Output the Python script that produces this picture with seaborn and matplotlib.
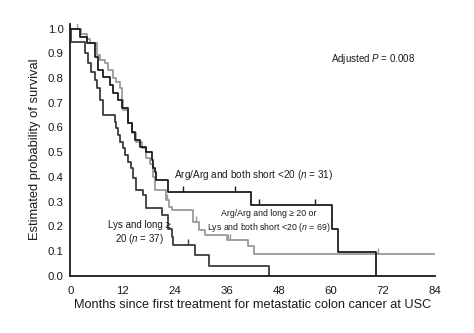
import numpy as np
import pandas as pd
import matplotlib
matplotlib.use("Agg")
import matplotlib.pyplot as plt
from matplotlib.path import Path
import seaborn as sns

# ---- data ----
argarg_t = [0, 2.1, 3.8, 5.6, 6.4, 7.5, 9.1, 9.8, 10.9, 11.8, 13.3, 14.1, 14.9, 16.0, 17.5,
            18.7, 19.0, 19.4, 19.8, 22.5, 41.6, 60.2, 61.7, 70.4]
argarg_s = [1.0, 0.967, 0.94, 0.886, 0.832, 0.805, 0.77, 0.738, 0.71, 0.678, 0.617, 0.583, 0.549,
            0.522, 0.50, 0.468, 0.435, 0.42, 0.387, 0.34, 0.285, 0.19, 0.094, 0.0]

lys_t = [0, 0.2, 3.3, 4.1, 4.8, 5.6, 6.0, 6.8, 7.5, 10.2, 10.6, 11.0, 11.3, 12.1, 12.6, 13.3,
         13.9, 14.5, 15.2, 16.8, 17.5, 21.0, 22.5, 23.3, 23.7, 28.7, 31.8, 45.8]
lys_s = [1.0, 0.947, 0.90, 0.86, 0.825, 0.792, 0.76, 0.711, 0.65, 0.623, 0.596, 0.569, 0.542,
         0.515, 0.488, 0.461, 0.434, 0.394, 0.347, 0.326, 0.272, 0.245, 0.19, 0.157, 0.124,
         0.083, 0.04, 0.0]

gray_t = [0, 2.5, 3.7, 4.5, 6.1, 6.8, 7.9, 8.7, 9.8, 10.6, 11.4, 11.8, 12.1, 13.3, 14.1, 15.2,
          16.4, 17.5, 18.3, 19.1, 19.4, 22.1, 22.7, 23.3, 28.3, 29.5, 31.0, 36.0, 41.0, 42.2, 84.0]
gray_s = [1.0, 0.98, 0.96, 0.94, 0.893, 0.873, 0.86, 0.832, 0.80, 0.785, 0.758, 0.711, 0.67,
          0.617, 0.577, 0.543, 0.515, 0.475, 0.45, 0.40, 0.347, 0.306, 0.279, 0.266, 0.218,
          0.185, 0.164, 0.144, 0.12, 0.086, 0.086]

argarg_cens_t = [26.0, 37.9, 43.4, 56.3]
argarg_cens_s = [0.34, 0.34, 0.285, 0.285]
lys_cens_t = [27.1]
lys_cens_s = [0.124]
gray_cens_t = [1.5, 22.2, 28.8, 36.4, 36.8, 70.8]
gray_cens_s = [1.0, 0.306, 0.218, 0.144, 0.144, 0.086]

groups = ["argarg", "lys", "gray"]
x_ticks = [0, 12, 24, 36, 48, 60, 72, 84]
y_ticks = [0.0, 0.1, 0.2, 0.3, 0.4, 0.5, 0.6, 0.7, 0.8, 0.9, 1.0]

# ---- style ----
sns.set_style("white")
plt.rcParams["font.family"] = ["Liberation Sans", "DejaVu Sans"]
plt.rcParams["mathtext.fontset"] = "custom"
plt.rcParams["mathtext.it"] = "Liberation Sans:italic"
plt.rcParams["mathtext.rm"] = "Liberation Sans"

palette = {"argarg": "#1c1c1c", "lys": "#3c3c3c", "gray": "#9a9a9a"}

curves = pd.concat([
    pd.DataFrame({"month": argarg_t, "surv": argarg_s, "group": "argarg"}),
    pd.DataFrame({"month": lys_t, "surv": lys_s, "group": "lys"}),
    pd.DataFrame({"month": gray_t, "surv": gray_s, "group": "gray"}),
], ignore_index=True)

cens = pd.concat([
    pd.DataFrame({"month": argarg_cens_t, "surv": argarg_cens_s, "group": "argarg"}),
    pd.DataFrame({"month": lys_cens_t, "surv": lys_cens_s, "group": "lys"}),
    pd.DataFrame({"month": gray_cens_t, "surv": gray_cens_s, "group": "gray"}),
], ignore_index=True)

fig = plt.figure(figsize=(4.74, 3.33), dpi=100)
ax = fig.add_axes([0.1487, 0.1724, 0.918 - 0.1487, 0.9288 - 0.1724])

# draw gray first so dark curves sit on top
for g in ["gray", "lys", "argarg"]:
    sub = curves[curves["group"] == g]
    sns.lineplot(data=sub, x="month", y="surv", ax=ax, color=palette[g],
                 drawstyle="steps-post", estimator=None, sort=False,
                 linewidth=1.3, legend=False)

tick_marker = Path([[0, 0], [0, 1]])
for g in ["gray", "lys", "argarg"]:
    sub = cens[cens["group"] == g]
    sns.scatterplot(data=sub, x="month", y="surv", ax=ax, marker=tick_marker,
                    s=70, color=palette[g], edgecolor=palette[g], linewidth=1.0,
                    legend=False)

ax.set_xlim(0, 84)
ax.set_ylim(0, 1.02)
ax.set_xticks(x_ticks)
ax.set_yticks(y_ticks)
ax.set_yticklabels([f"{v:.1f}" for v in y_ticks])
ax.tick_params(axis="both", direction="in", length=3.5, width=1.0, labelsize=8.2,
               colors="#1a1a1a")
ax.tick_params(axis="x", pad=7.5)
ax.tick_params(axis="y", pad=5)
for side in ["top", "right"]:
    ax.spines[side].set_visible(False)
for side in ["left", "bottom"]:
    ax.spines[side].set_color("#1a1a1a")
    ax.spines[side].set_linewidth(1.3)

ax.set_xlabel("Months since first treatment for metastatic colon cancer at USC",
              fontsize=9.2, labelpad=2, color="#1a1a1a")
ax.set_ylabel("Estimated probability of survival", fontsize=9.3, labelpad=5, color="#1a1a1a")

ax.text(69.8, 0.877, r"Adjusted $P$ = 0.008", fontsize=7, ha="center", va="center",
        color="#1a1a1a")
ax.text(23.8, 0.407, r"Arg/Arg and both short <20 ($n$ = 31)", fontsize=7.2,
        ha="left", va="center", color="#1a1a1a")
ax.text(45.6, 0.219, "Arg/Arg and long \u2265 20 or\n" + r"Lys and both short <20 ($n$ = 69)",
        fontsize=6.3, ha="center", va="center", color="#1a1a1a", linespacing=1.25)
ax.text(15.9, 0.172, "Lys and long \u2265\n" + r"20 ($n$ = 37)", fontsize=7.0,
        ha="center", va="center", color="#1a1a1a", linespacing=1.25)

fig.savefig("out.png", dpi=100)
